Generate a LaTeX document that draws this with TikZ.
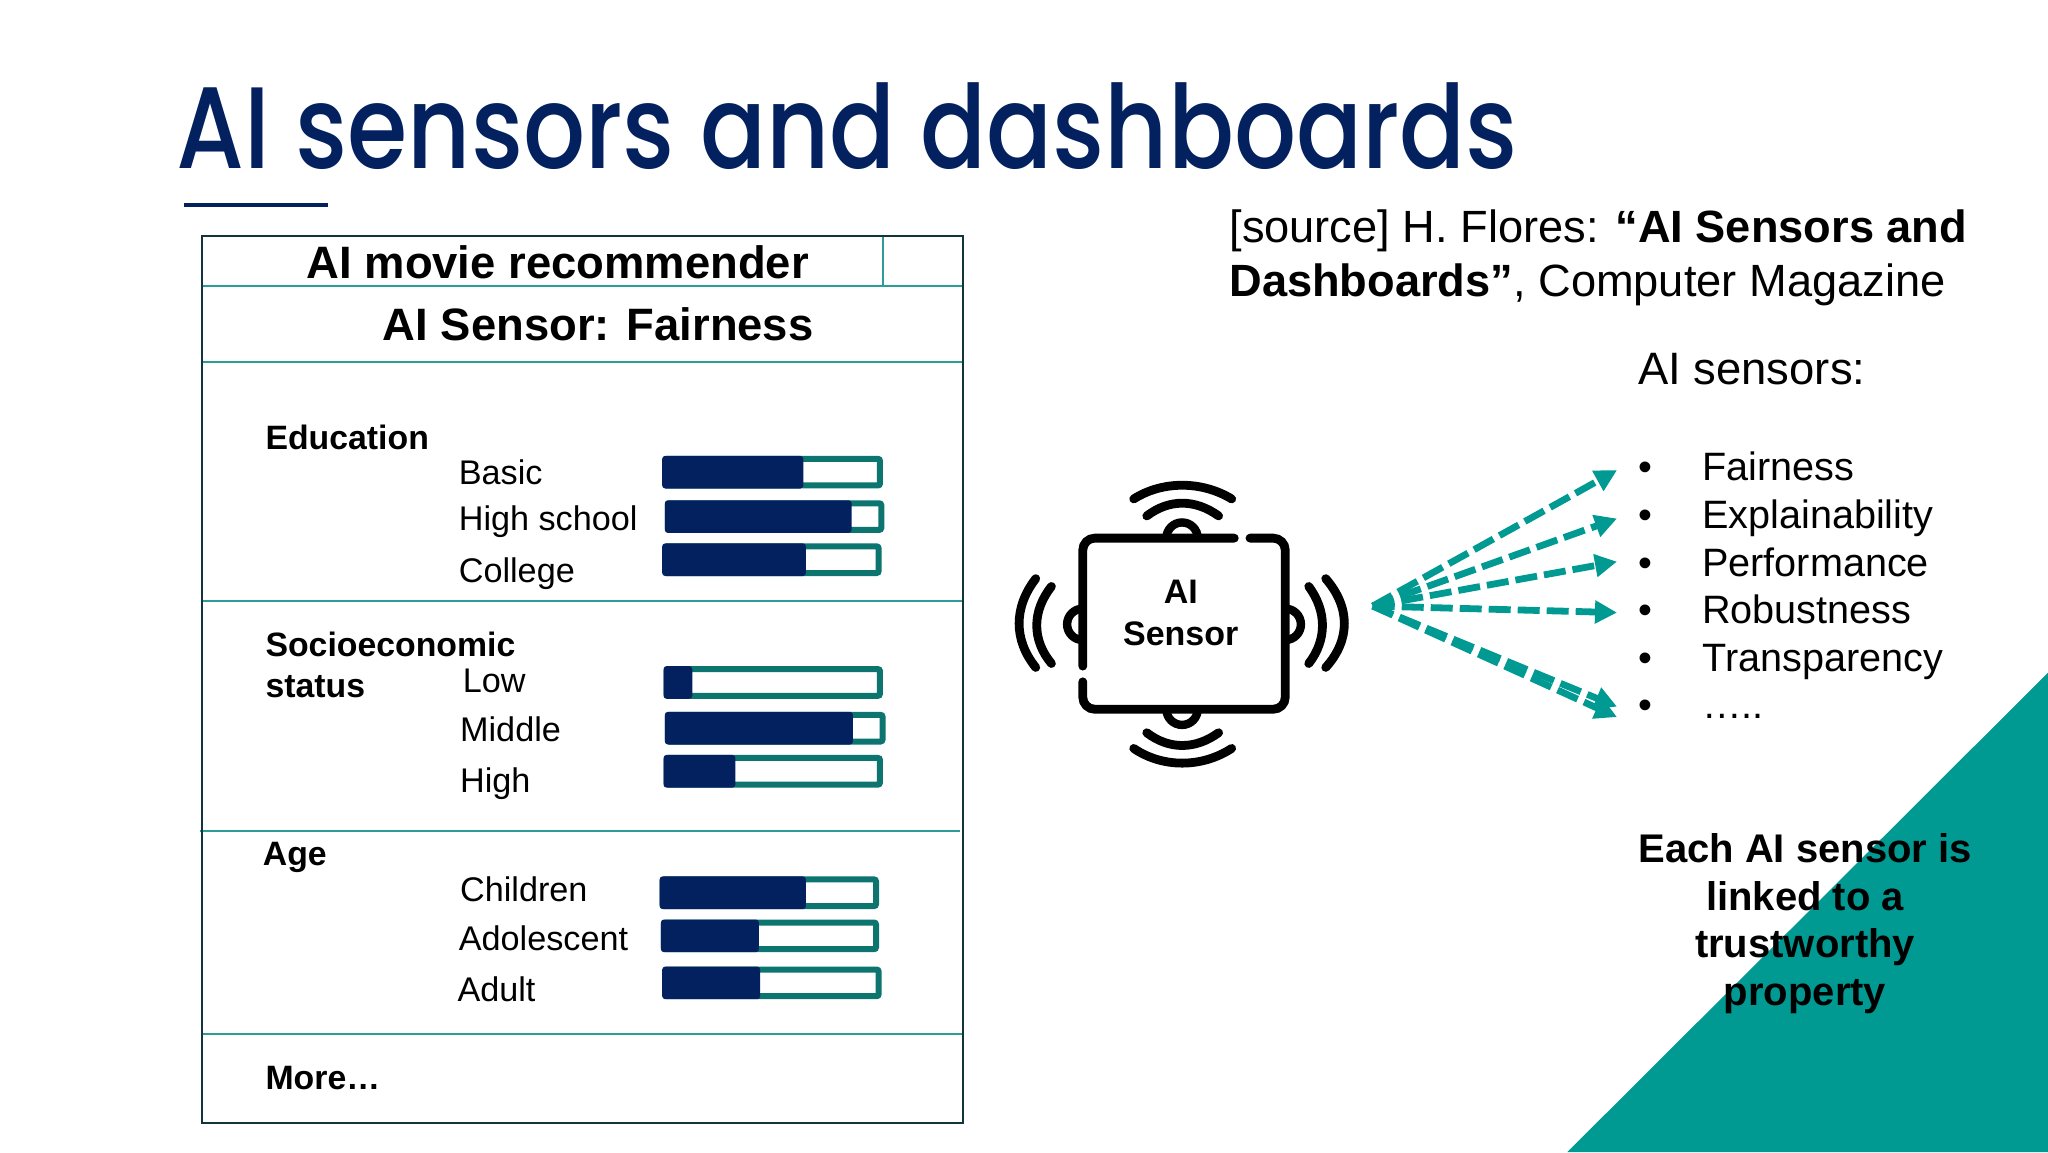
\documentclass[tikz,border=0pt]{standalone}
\usepackage{fontspec}
\setmainfont{Liberation Sans}
\newfontfamily\titlefont[FakeStretch=0.84]{Poppins Medium}
\usepackage{tikz}
\usetikzlibrary{arrows.meta,positioning}
\definecolor{navy}{HTML}{03215F}
\definecolor{teal1}{HTML}{009A93}
\definecolor{teal2}{HTML}{2A9D96}
\definecolor{teal3}{HTML}{0D7570}
\definecolor{frame}{HTML}{12353A}
\newcommand{\fsize}[1]{\fontsize{#1}{#1}\selectfont}
\tikzset{
  txt/.style={inner sep=0pt,anchor=base west,font=\fsize{17.1}},
  head/.style={inner sep=0pt,anchor=base west,font=\fsize{16.9}\bfseries},
  big/.style={inner sep=0pt,anchor=base,font=\fsize{22.7}\bfseries},
  item/.style={inner sep=0pt,anchor=base west,font=\fsize{19.8}},
  note/.style={inner sep=0pt,anchor=base,font=\fsize{20}\bfseries},
  rule/.style={teal2,line width=1pt},
  shell/.style={line width=4.4pt,line cap=round,rounded corners=6pt},
  wave/.style={line width=4.4pt,line cap=round},
  ray/.style={teal1,line width=3.4pt,dash pattern=on 11pt off 3.5pt,-{Triangle[length=11pt,width=11pt]}}
}
\begin{document}
\begin{tikzpicture}[x=0.65306pt,y=-0.65306pt]
\useasboundingbox (0,0) rectangle (1568,882);
\fill [teal1] (1568,515) -- (1200,882) -- (1568,882) -- cycle;

% title
\node [inner sep=0pt,anchor=base west,text=navy,font=\titlefont\fsize{58}] (title) at (135,129) {AI sensors and dashboards};
\draw [navy,line width=2pt] (141,157) -- (251,157);

% panel
\draw [rule] (155,219) -- (737,219);
\draw [rule] (155,277) -- (737,277);
\draw [rule] (155,460) -- (737,460);
\draw [rule] (153,636) -- (735,636);
\draw [rule] (155,792) -- (737,792);
\draw [rule] (676,181) -- (676,219);
\draw [frame,line width=1pt] (155,181) rectangle (737,860);

\node [big] (recommender) at (427,213) {AI movie recommender};
\node [big] (fairness) at (458,261) {AI Sensor: Fairness};

\node [head] (education) at (203,344) {Education};
\node [head] (socio) at (203,503) {Socioeconomic};
\node [head] (status) at (203,534) {status};
\node [head] (age) at (201,663) {Age};
\node [head] (more) at (203,834) {More…};

\foreach \n/\t/\x/\y in {basic/Basic/351/371,highschool/High school/351/406,college/College/351/446,
    low/Low/354/530,middle/Middle/352/568,high/High/352/607,
    children/Children/352/690,adolescent/Adolescent/351/728,adult/Adult/350/767}
  \node [txt] (\n) at (\x,\y) {\t};

% bars: left, top, right, bottom, end of fill
\foreach \a/\b/\c/\d/\e in {507/349/676/374/615,509/383/677/408/652,507/416/675/441/617,
    508/510/676/535/530,509/545/678/570/653,508/578/676/603/563,
    505/671/673/696/617,506/704/673/729/581,507/740/675/765/582}
  {
  \draw [teal3,fill=white,line width=3pt,rounded corners=1pt] (\a+2.3,\b+2.3) rectangle (\c-2.3,\d-2.3);
  \fill [navy,rounded corners=1.5pt] (\a,\b) rectangle (\e,\d);
  }

% sensor icon
\draw [shell] (945,412) -- (829,412) -- (829,510);
\draw [shell] (829,522) -- (829,543) -- (984,543) -- (984,412) -- (957,412);
\draw [line width=4.2pt] (893,412) arc (180:360:12);
\draw [line width=4.2pt] (893,543) arc (180:0:12);
\draw [line width=4.2pt] (829,490) arc (90:270:12);
\draw [line width=4.2pt] (984,490) arc (90:-90:12);

\draw [wave] (878,395) .. controls (895,382) and (915,382) .. (933,395);
\draw [wave] (868,382) .. controls (890,368) and (920,368) .. (943,382);
\draw [wave] (878,561) .. controls (895,574) and (915,574) .. (933,561);
\draw [wave] (868,573) .. controls (890,588) and (920,588) .. (943,573);
\draw [wave] (805,449) .. controls (790,468) and (790,490) .. (805,508);
\draw [wave] (793,443) .. controls (776,465) and (776,490) .. (793,511);
\draw [wave] (1002,449) .. controls (1016,468) and (1016,490) .. (1002,508);
\draw [wave] (1015,443) .. controls (1034,465) and (1034,490) .. (1015,511);

\node [inner sep=0pt,anchor=base,font=\fsize{17}\bfseries] (sensorA) at (904,462) {AI};
\node [inner sep=0pt,anchor=base,font=\fsize{17}\bfseries] (sensorB) at (904,494) {Sensor};

% source
\node [item,font=\fsize{22.6}] (srcA) at (941,186) {[source] H. Flores: \textbf{“AI Sensors and}};
\node [item,font=\fsize{22.6}] (srcB) at (941,227) {\textbf{Dashboards”}, Computer Magazine};

% list
\node [item,font=\fsize{22.7}] (listhead) at (1254,294) {AI sensors:};
\foreach \n/\t/\y in {fair/Fairness/368,expl/Explainability/405,perf/Performance/441,
    rob/Robustness/477,trans/Transparency/514,dots/…../550}
  {
  \node [item] (\n) at (1303,\y) {\t};
  \node [item] (b\n) at (1254,\y) {•};
  }

% arrows
\coordinate (hub) at (1051,464);
\foreach \n/\x/\y in {tA/1238/360,tB/1238/397,tC/1238/430,tD/1238/469,tE/1238/541,tF/1238/549}
  {
  \coordinate (\n) at (\x,\y);
  \draw [ray] (hub) -- (\n);
  }

% note
\node [note] (noteA) at (1382,660) {Each AI sensor is};
\node [note] (noteB) at (1382,697) {linked to a};
\node [note] (noteC) at (1382,733) {trustworthy};
\node [note] (noteD) at (1382,770) {property};
\end{tikzpicture}
\end{document}
